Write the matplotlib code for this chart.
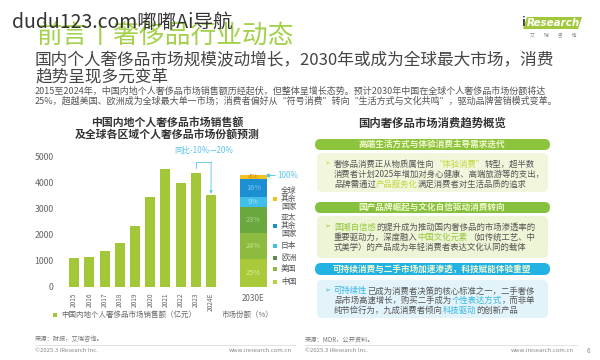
import matplotlib
matplotlib.use('Agg')
import matplotlib.pyplot as plt
from matplotlib.patches import FancyBboxPatch, Polygon, Rectangle

plt.rcParams['font.family'] = ['Noto Sans CJK SC', 'DejaVu Sans']
FAM = ['Noto Sans CJK SC', 'DejaVu Sans']

# ---- data ----
years = ['2015', '2016', '2017', '2018', '2019', '2020', '2021', '2022', '2023', '2024E']
sales = [1100, 1150, 1400, 1700, 2350, 3450, 4550, 4000, 4400, 3550]   # 亿元
yticks = [0, 1000, 2000, 3000, 4000, 5000]

regions = ['中国', '美国', '欧洲', '日本', '亚太其余国家', '全球其余国家']
share_2030 = [25, 24, 23, 9, 16, 4]   # %
reg_colors = ['#a9c93a', '#8cbb40', '#6aa83f', '#3fbfea', '#1b8fd2', '#f4c21f']
reg_txt = ['#e2ee9a', '#c8e28a', '#a8d08c', '#a4e2f6', '#7cc6ee', '#c98a10']
leg_marker = ['#b6d13c', '#8cbb40', '#5f8a50', '#3fbfea', '#1b8fd2', '#f4c21f']

bar_color = '#a2c83a'
blue_ann = '#5cc3ea'
grey = '#666666'

fig = plt.figure(figsize=(6, 3.6), dpi=100)
fig.patch.set_facecolor('white')

# overlay axes in pixel coordinates (y down)
ov = fig.add_axes([0, 0, 1, 1])
ov.set_xlim(0, 600)
ov.set_ylim(360, 0)
ov.axis('off')

renderer = fig.canvas.get_renderer()


def rich(x, y, parts, size, base='#555555'):
    for txt, col in parts:
        t = ov.text(x, y, txt, color=col or base, fontsize=size, va='center',
                    ha='left', family=FAM)
        x += t.get_window_extent(renderer).width


# ---- header ----
ov.text(37, 36, '前言丨奢侈品行业动态', fontsize=18.5, color='#a3d14c', va='center')
ov.text(12, 22, 'dudu123.com嘟嘟Ai导航', fontsize=14, color='#333333', va='center')

ov.add_patch(Polygon([(523, 29), (527, 17), (582, 17), (578, 29)], closed=True,
                     color='#a0c83a', lw=0))
ov.text(521, 23, 'i', fontsize=9, color='#444444', fontweight='bold', va='center')
ov.text(553, 23, 'Research', fontsize=7.5, color='white', fontweight='bold',
        style='italic', va='center', ha='center', family='DejaVu Sans')
ov.text(553, 36, '艾        瑞        咨        询', fontsize=3.5, color='#888888',
        va='center', ha='center')

ov.text(35, 61, '国内个人奢侈品市场规模波动增长，2030年或成为全球最大市场，消费',
        fontsize=12, color='#444444', va='center')
ov.text(35, 77, '趋势呈现多元变革', fontsize=12, color='#444444', va='center')
ov.text(35, 91, '2015至2024年，中国内地个人奢侈品市场销售额历经起伏，但整体呈增长态势。'
        '预计2030年中国在全球个人奢侈品市场份额将达', fontsize=6.5, color='#555555', va='center')
ov.text(35, 101, '25%，超越美国、欧洲成为全球最大单一市场；消费者偏好从“符号消费”转向'
        '“生活方式与文化共鸣”，驱动品牌营销模式变革。', fontsize=6.5, color='#555555', va='center')

# ---- left chart ----
ov.text(167, 122, '中国内地个人奢侈品市场销售额', fontsize=7.8, fontweight='bold',
        color='#333333', ha='center', va='center')
ov.text(167, 134, '及全球各区域个人奢侈品市场份额预测', fontsize=7.8, fontweight='bold',
        color='#333333', ha='center', va='center')

ax = fig.add_axes([62 / 600, 1 - 287 / 360, 158.2 / 600, 130 / 360])
ax.patch.set_alpha(0)
xs = list(range(len(years)))
ax.bar(xs, sales, width=0.66, color=bar_color)
ax.set_xlim(-0.8, 9.6)
ax.set_ylim(0, 5000)
ax.set_yticks(yticks)
ax.set_yticklabels([str(v) for v in yticks], fontsize=6.3, color=grey)
ax.set_xticks(xs)
ax.set_xticklabels(years, rotation=90, fontsize=4.7, color=grey, va='top', ha='center')
ax.tick_params(length=0, pad=4)
ax.tick_params(axis='y', pad=6)
for s in ax.spines.values():
    s.set_visible(False)

# bracket 2023 -> 2024E
ax.plot([8, 8, 9], [sales[8] + 180, 4800, 4800], color=blue_ann, lw=0.6, clip_on=False)
ax.annotate('', xy=(9, sales[9] + 40), xytext=(9, 4800),
            arrowprops=dict(arrowstyle='-|>', color=blue_ann, lw=0.6,
                            mutation_scale=4, shrinkA=0, shrinkB=0),
            annotation_clip=False)
ax.text(8.5, 5270, '同比-10%—20%', fontsize=5.8, color=blue_ann, ha='center',
        va='center', clip_on=False)

# stacked 2030E
ax2 = fig.add_axes([240 / 600, 1 - 287 / 360, 27 / 600, 112 / 360])
ax2.patch.set_alpha(0)
bottom = 0
for val, col, tc in zip(share_2030, reg_colors, reg_txt):
    ax2.bar(0, val, bottom=bottom, width=1.0, color=col)
    ax2.text(0, bottom + val / 2, f'{val}%', fontsize=5.3, color=tc,
             ha='center', va='center')
    bottom += val
ax2.set_xlim(-0.5, 0.5)
ax2.set_ylim(0, bottom)
ax2.set_yticks([])
ax2.set_xticks([0])
ax2.set_xticklabels(['2030E'], fontsize=5.8, color=grey)
ax2.tick_params(length=0, pad=5)
for s in ax2.spines.values():
    s.set_visible(False)
ax2.plot([0.55, 0.8], [bottom, bottom], color=blue_ann, lw=0.6, clip_on=False)
ax2.plot([0.55], [bottom], 'o', ms=1.8, color=blue_ann, clip_on=False)
ax2.text(0.87, bottom, '100%', fontsize=5.8, color=blue_ann, va='center', clip_on=False)

# region legend
leg_y = [282, 269, 258, 246, 226, 199]
for name, col, y in zip(regions, leg_marker, leg_y):
    ov.add_patch(Rectangle((272.5, y - 2), 4, 4, color=col, lw=0))
    lab = '\n'.join(name[i:i + 2] for i in range(0, len(name), 2))
    ov.text(281, y, lab, fontsize=5.6, color='#555555', va='center', ha='left',
            linespacing=1.05)

# bottom legend
ov.add_patch(Rectangle((53, 313), 4, 4, color=bar_color, lw=0))
ov.text(61, 315, '中国内地个人奢侈品市场销售额（亿元）', fontsize=5.4, color=grey, va='center')
ov.text(222, 315, '市场份额（%）', fontsize=5.4, color=grey, va='center')

# ---- right panel ----
ov.text(432, 123, '国内奢侈品市场消费趋势概览', fontsize=8.2, fontweight='bold',
        color='#333333', ha='center', va='center')

pills = [
    (139, 150, '#8cc43e', '高端生活方式与体验消费主导需求迭代'),
    (202, 213, '#86c03f', '国产品牌崛起与文化自信驱动消费转向'),
    (263, 275, '#22b2e4', '可持续消费与二手市场加速渗透，科技赋能体验重塑'),
]
boxes = [(153, 192, '#f1f6dc'), (216, 258, '#eef4d6'), (280, 318, '#e2f3fa')]

for (y0, y1, col, txt) in pills:
    h = y1 - y0
    ov.add_patch(FancyBboxPatch((315, y0), 235, h,
                                boxstyle=f'round,pad=0,rounding_size={h / 2}',
                                fc=col, ec='none'))
    ov.text(432, (y0 + y1) / 2, txt, fontsize=6.2, color='#f3f8cf', fontweight='bold',
            ha='center', va='center')
for (y0, y1, col) in boxes:
    ov.add_patch(FancyBboxPatch((317, y0), 231, y1 - y0,
                                boxstyle='round,pad=0,rounding_size=5',
                                fc=col, ec='none'))

hl1 = '#c6d73c'
hl2 = '#96c83c'
hl3 = '#36b6e6'
box_lines = [
    ([164, 174, 184], hl1, [
        [('奢侈品消费正从物质属性向', None), ('“体验消费”', hl1), ('转型，超半数', None)],
        [('消费者计划2025年增加对身心健康、高端旅游等的支出，', None)],
        [('品牌需通过', None), ('产品服务化', hl1), ('满足消费者对生活品质的追求', None)],
    ]),
    ([227, 237, 247], hl2, [
        [('国潮自信感', hl2), ('的提升成为推动国内奢侈品的市场渗透率的', None)],
        [('重要驱动力，深度融入', None), ('中国文化元素', hl2), ('（如传统工艺、中', None)],
        [('式美学）的产品成为年轻消费者表达文化认同的载体', None)],
    ]),
    ([291, 300.5, 310], hl3, [
        [('可持续性', hl3), ('已成为消费者决策的核心标准之一，二手奢侈', None)],
        [('品市场高速增长，购买二手成为', None), ('个性表达方式', hl3), ('，而非单', None)],
        [('纯节俭行为，九成消费者倾向', None), ('科技驱动', hl3), ('的创新产品', None)],
    ]),
]
for ys, acol, lines in box_lines:
    ov.text(324, ys[0], '➢', fontsize=5, color=acol, va='center', family=['DejaVu Sans'])
    for y, parts in zip(ys, lines):
        rich(334, y, parts, 6.0)

# ---- footers ----
for x0, x1, src in [(35, 295, '来源：财报，艾瑞咨询。'), (305, 577, '来源：MDR，公开资料。')]:
    ov.text(x0, 339, src, fontsize=4.5, color='#777777', va='center')
    ov.plot([x0, x1], [345, 345], color='#dddddd', lw=0.6)
    ov.text(x0, 351, '©2025.3 iResearch Inc.', fontsize=4.3, color='#888888', va='center')
    ov.text(x1 - 3, 351, 'www.iresearch.com.cn', fontsize=4.3, color='#888888',
            va='center', ha='right')
ov.text(588, 351, '6', fontsize=4.5, color='#888888', va='center', ha='center')

fig.savefig('out.png', dpi=100)
